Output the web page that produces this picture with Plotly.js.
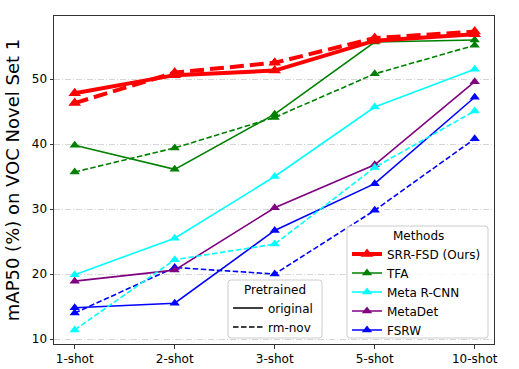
<!DOCTYPE html>
<html><head><meta charset="utf-8">
<script src="https://cdn.plot.ly/plotly-3.0.1.min.js"></script>
<style>html,body{margin:0;padding:0;background:#fff}#chart{width:519px;height:369px}</style>
</head><body><div id="chart"></div>
<script>
const shots = ["1-shot","2-shot","3-shot","5-shot","10-shot"];
const methods = ["SRR-FSD (Ours)","TFA","Meta R-CNN","MetaDet","FSRW"];
const colors = ["red","green","cyan","purple","blue"];
const srrOriginal = [47.8, 50.6, 51.3, 55.9, 56.9];
const srrRmNov    = [46.3, 51.0, 52.5, 56.3, 57.3];
const tfaOriginal = [39.8, 36.1, 44.6, 55.7, 56.0];
const tfaRmNov    = [35.7, 39.4, 44.1, 50.8, 55.2];
const metaRcnnOriginal = [19.9, 25.5, 35.0, 45.7, 51.5];
const metaRcnnRmNov    = [11.4, 22.2, 24.6, 36.4, 45.1];
const metaDetOriginal  = [18.9, 20.6, 30.2, 36.8, 49.6];
const fsrwOriginal = [14.8, 15.5, 26.7, 33.9, 47.2];
const fsrwRmNov    = [14.0, 21.0, 20.0, 29.8, 40.8];
const pretrainedKinds = ["original","rm-nov"];

const original = [srrOriginal, tfaOriginal, metaRcnnOriginal, metaDetOriginal, fsrwOriginal];
const rmNov = [srrRmNov, tfaRmNov, metaRcnnRmNov, null, fsrwRmNov];

// plot-area geometry (px) for placing legend boxes
const L = 54, R = 25, T = 16, B = 25, W = 519, H = 369;
const pw = W - L - R, ph = H - T - B;
const px = v => (v - L) / pw;
const py = v => (H - B - v) / ph;

function roundRect(x0, y0, x1, y1, r) {
  const rx = r / pw, ry = r / ph;
  const a = px(x0), b = px(x1), top = py(y0), bot = py(y1);
  return `M${a+rx},${bot} L${b-rx},${bot} Q${b},${bot} ${b},${bot+ry} L${b},${top-ry} Q${b},${top} ${b-rx},${top} ` +
         `L${a+rx},${top} Q${a},${top} ${a},${top-ry} L${a},${bot+ry} Q${a},${bot} ${a+rx},${bot} Z`;
}

const xi = shots.map((s,i)=>i);
const traces = [];
for (let m = methods.length-1; m >= 0; m--) {
  const thick = m === 0;
  const lw = thick ? 4 : 1.6;
  const ms = thick ? 11 : 9;
  if (rmNov[m]) {
    traces.push({x: xi, y: rmNov[m], type:'scatter', mode:'lines+markers', showlegend:false,
      line:{color:colors[m], width:lw, dash: thick ? '14px,6px' : '5.5px,2.5px'},
      marker:{symbol:'triangle-up', size:ms, color:colors[m]}, hoverinfo:'skip'});
  }
  traces.push({x: xi, y: original[m], type:'scatter', mode:'lines+markers', name: methods[m],
    legend:'legend', legendrank: m+1,
    line:{color:colors[m], width:lw},
    marker:{symbol:'triangle-up', size:ms, color:colors[m]}});
}
pretrainedKinds.forEach((k, i) => {
  traces.push({x:[null], y:[null], type:'scatter', mode:'lines', name:k, legend:'legend2', legendrank:i+1,
    line:{color:'black', width:1.6, dash: i === 0 ? 'solid' : '5.5px,2.5px'}});
});

const fam = 'DejaVu Sans';
const layout = {
  width:W, height:H,
  margin:{l:L, r:R, t:T, b:B},
  paper_bgcolor:'#fff', plot_bgcolor:'#fff',
  font:{family:fam, size:12, color:'#000'},
  xaxis:{range:[-0.207,4.193], tickmode:'array', tickvals:xi, ticktext:shots,
    showline:true, mirror:true, linecolor:'#333', linewidth:1, ticks:'outside', ticklen:3.5, tickcolor:'#333',
    showgrid:false, zeroline:false, tickfont:{family:fam, size:12}},
  yaxis:{range:[9.23,59.7], tickvals:[10,20,30,40,50],
    showline:true, mirror:true, linecolor:'#333', linewidth:1, ticks:'outside', ticklen:3.5, tickcolor:'#333',
    showgrid:true, gridcolor:'#cccccc', griddash:'6px,2px,1px,2px', gridwidth:0.8, zeroline:false,
    tickfont:{family:fam, size:12},
    title:{text:'mAP50 (%) on VOC Novel Set 1', font:{family:fam, size:18}, standoff:7}},
  shapes:[
    {type:'path', xref:'paper', yref:'paper', layer:'above', path: roundRect(347,226,488,338,3),
      fillcolor:'rgba(255,255,255,0.8)', line:{color:'#cccccc', width:1}},
    {type:'path', xref:'paper', yref:'paper', layer:'above', path: roundRect(228,280,322,338,3),
      fillcolor:'rgba(255,255,255,0.8)', line:{color:'#cccccc', width:1}}
  ],
  annotations:[
    {text:'Methods', xref:'paper', yref:'paper', x:px(418), y:py(236), xanchor:'center', yanchor:'middle',
      showarrow:false, font:{family:fam, size:12}},
    {text:'Pretrained', xref:'paper', yref:'paper', x:px(275), y:py(290), xanchor:'center', yanchor:'middle',
      showarrow:false, font:{family:fam, size:12}}
  ],
  legend:{x:px(347), y:py(239.5), xanchor:'left', yanchor:'top',
    bgcolor:'rgba(0,0,0,0)', borderwidth:0,
    font:{family:fam, size:12}, tracegroupgap:0, itemwidth:30},
  legend2:{x:px(228), y:py(293.5), xanchor:'left', yanchor:'top',
    bgcolor:'rgba(0,0,0,0)', borderwidth:0,
    font:{family:fam, size:12}, itemwidth:30}
};
Plotly.newPlot('chart', traces, layout, {displayModeBar:false, staticPlot:true});
</script></body></html>
